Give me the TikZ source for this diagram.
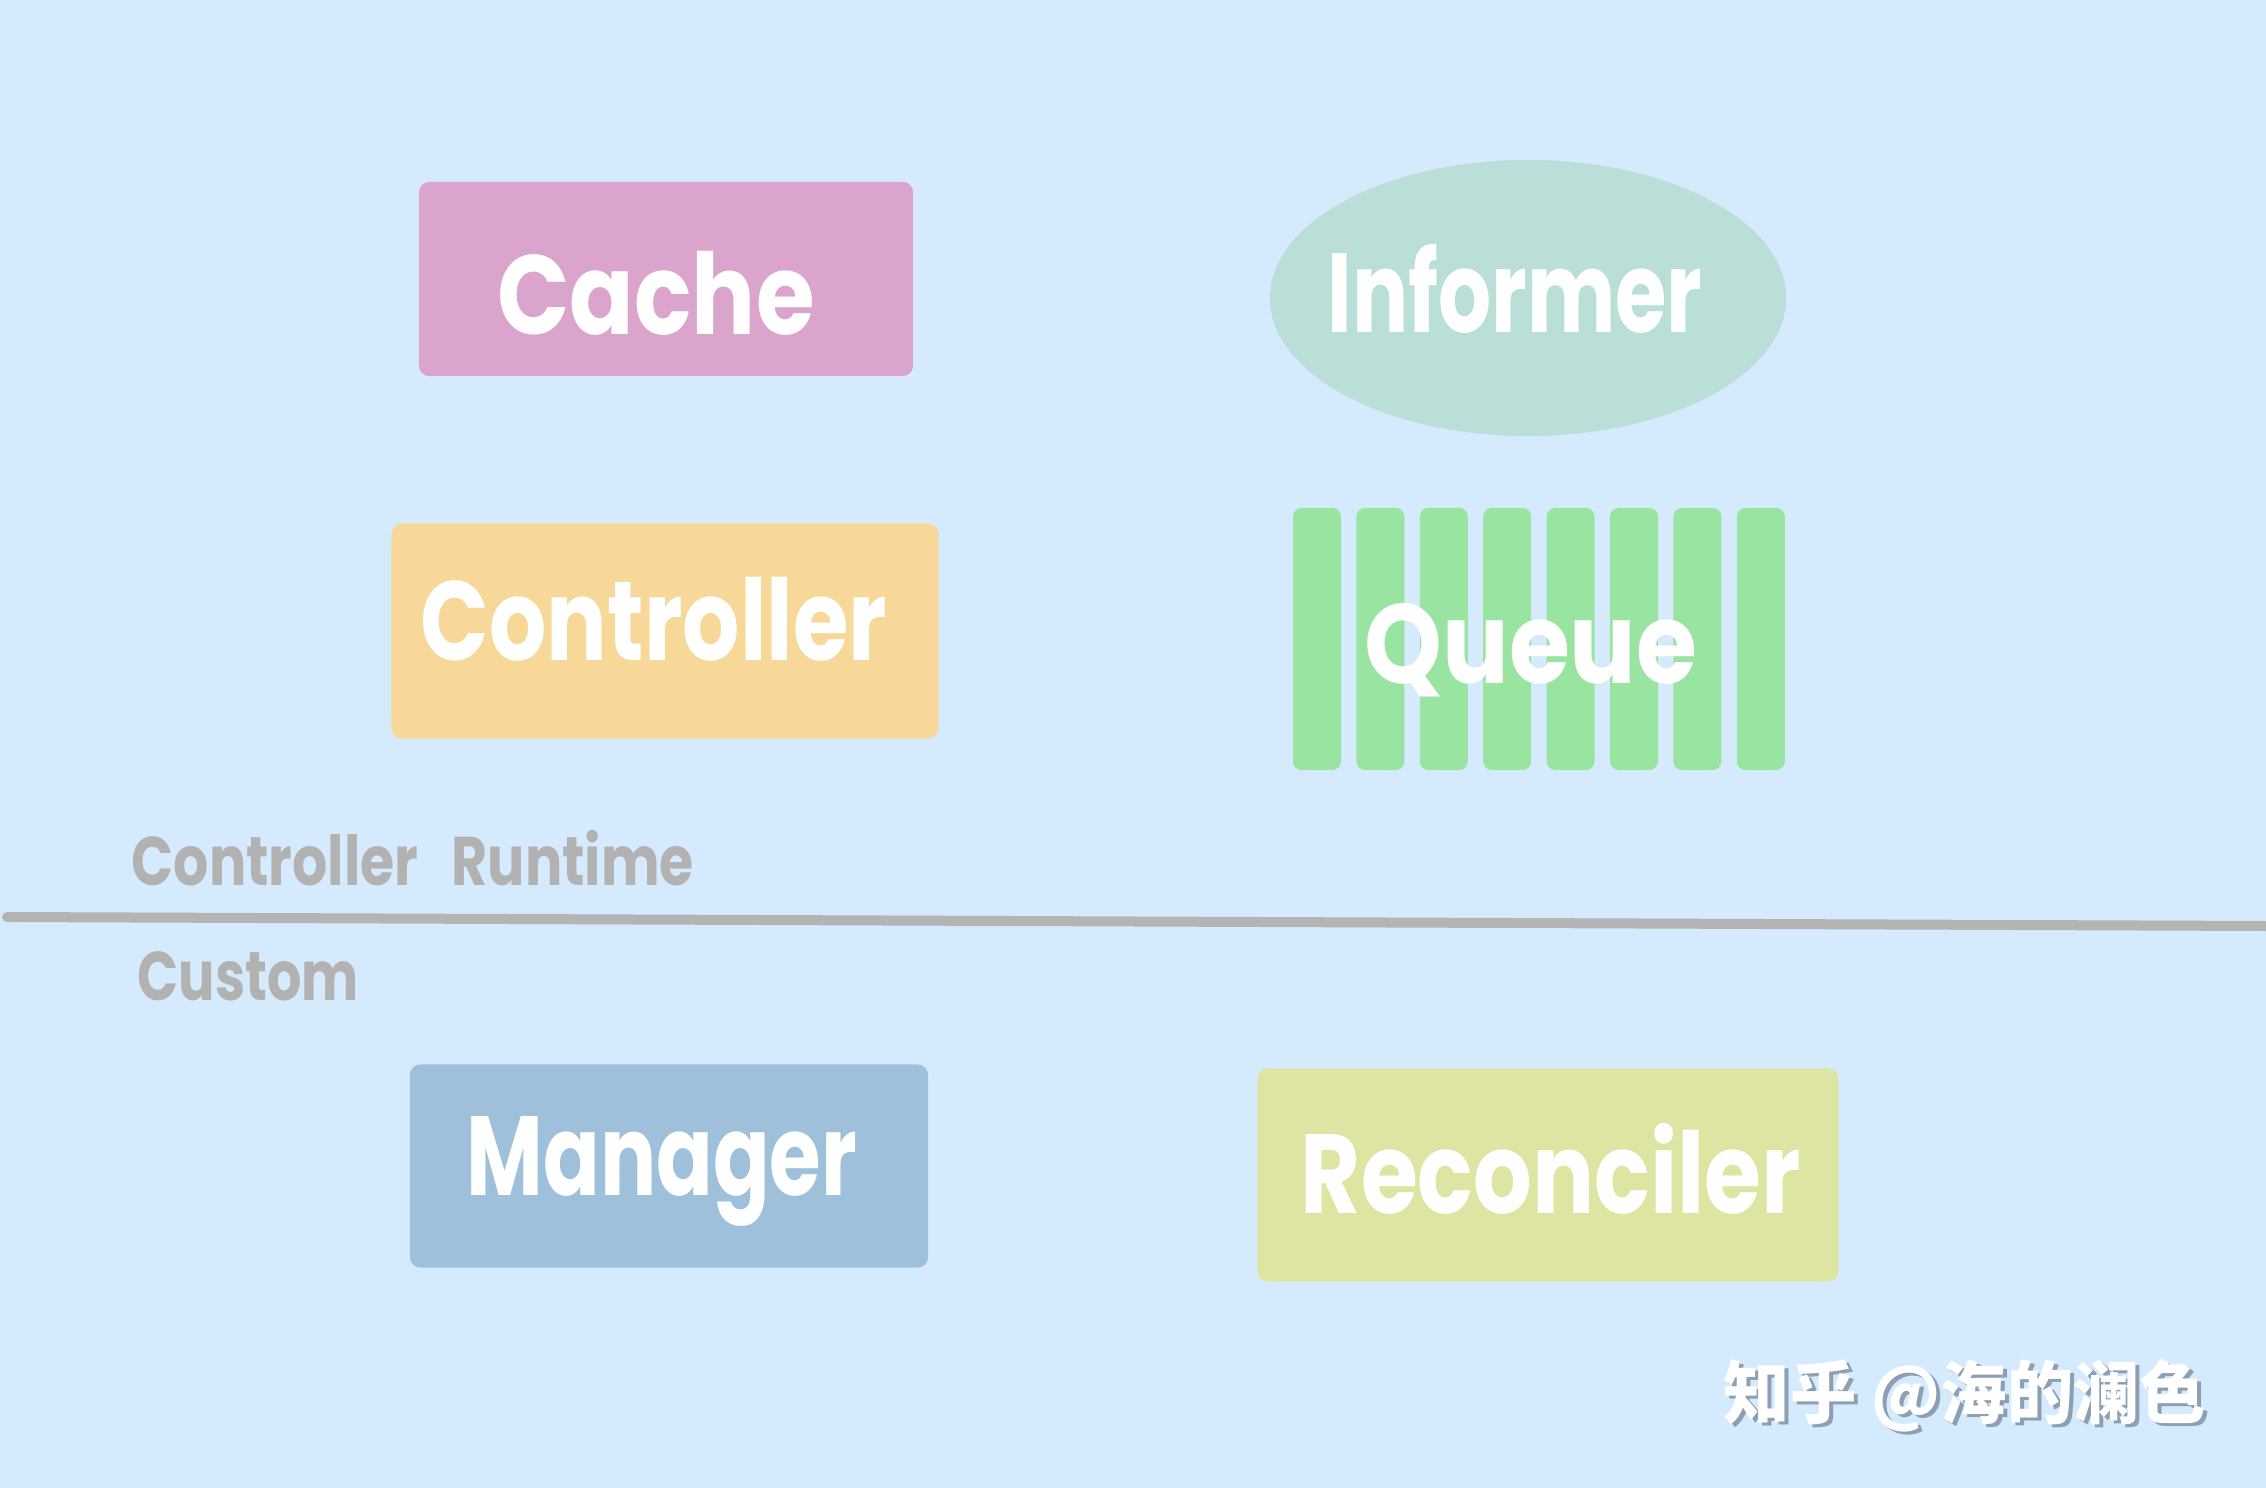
\documentclass[tikz,border=0pt]{standalone}
\usepackage{fontspec}
\usepackage{graphicx}
\usetikzlibrary{shapes.geometric}
\setmainfont{Poppins}
\newfontfamily\cjkfont{Noto Sans CJK SC}
\definecolor{bgblue}{HTML}{D5EBFD}
\definecolor{cachepink}{HTML}{DBA4CC}
\definecolor{informmint}{HTML}{B9DFD8}
\definecolor{ctrlyellow}{HTML}{F7D898}
\definecolor{queuegreen}{HTML}{98E4A0}
\definecolor{mgrblue}{HTML}{9EC0DB}
\definecolor{recgreen}{HTML}{DEE5A3}
\definecolor{sepgray}{HTML}{B4B4B4}
\definecolor{labgray}{HTML}{B2B2B2}
\definecolor{wmshadow}{HTML}{8C9FB3}
\newcommand\fitw[2]{\resizebox{#1}{\height}{#2}}
\tikzset{
  box/.style={rectangle, rounded corners=3pt, inner sep=0pt, draw=none},
  bar/.style={rectangle, rounded corners=2.5pt, inner sep=0pt, fill=queuegreen, minimum width=0.48cm, minimum height=2.62cm},
  wlab/.style={text=white, anchor=base, inner sep=0pt, font=\fontsize{32}{32}\selectfont\bfseries},
  glab/.style={text=labgray, anchor=base west, inner sep=0pt, font=\fontsize{19.6}{20}\selectfont\bfseries},
  wmark/.style={anchor=base west, inner sep=0pt, font=\cjkfont\bfseries\fontsize{19.5}{20}\selectfont}
}
\begin{document}
\begin{tikzpicture}[x=0.01cm, y=-0.01cm]
\fill[bgblue] (0,0) rectangle (2266,1488);
\useasboundingbox (0,0) rectangle (2266,1488);

% Cache
\node[box, fill=cachepink, minimum width=4.94cm, minimum height=1.94cm] (cache) at (666,279) {};
\node[wlab] (cachet) at (656,334) {\fitw{3.17cm}{Cache}};

% Informer
\node[ellipse, inner sep=0pt, fill=informmint, minimum width=5.16cm, minimum height=2.76cm] (informer) at (1528,298) {};
\node[wlab] (informert) at (1515,332) {\fitw{3.75cm}{Informer}};

% Controller
\node[box, fill=ctrlyellow, minimum width=5.47cm, minimum height=2.15cm] (controller) at (665,631) {};
\node[wlab] (controllert) at (654,660) {\fitw{4.66cm}{Controller}};

% Queue bars
\foreach \i in {1,...,8} {
  \node[bar] (q\i) at ({1317+63.4*(\i-1)},639) {};
}
\node[wlab] (queuet) at (1531,683) {\fitw{3.33cm}{Queue}};

% separator
\coordinate (sepL) at (7,917);
\coordinate (sepR) at (2266,926);
\draw[sepgray, line width=0.1cm, line cap=round] (sepL) -- (sepR);

\node[glab] (crt) at (131,885) {\fitw{5.62cm}{Controller\hspace{0.6em}Runtime}};
\node[glab] (custt) at (137,1000) {\fitw{2.21cm}{Custom}};

% Manager
\node[box, fill=mgrblue, minimum width=5.18cm, minimum height=2.03cm] (manager) at (669,1166) {};
\node[wlab] (managert) at (662,1195) {\fitw{3.90cm}{Manager}};

% Reconciler
\node[box, fill=recgreen, minimum width=5.81cm, minimum height=2.13cm] (reconciler) at (1548,1175) {};
\node[wlab] (reconcilert) at (1551,1213) {\fitw{5.00cm}{Reconciler}};

% watermark
\node[wmark, text=wmshadow] (wms) at (1727,1421) {\fitw{4.82cm}{知乎 @海的澜色}};
\node[wmark, text=white] (wm) at (1723,1418) {\fitw{4.82cm}{知乎 @海的澜色}};
\end{tikzpicture}
\end{document}
